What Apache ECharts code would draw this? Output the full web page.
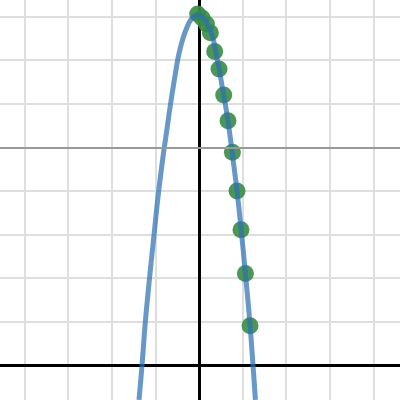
<!DOCTYPE html>
<html>
<head>
<meta charset="utf-8">
<script src="https://cdn.jsdelivr.net/npm/echarts@6/dist/echarts.min.js"></script>
<style>
html,body{margin:0;padding:0;background:#fff;overflow:hidden;width:400px;height:400px;}
#c{position:absolute;left:-18.7px;top:-26.9px;width:436px;height:436px;}
</style>
</head>
<body>
<div id="c"></div>
<script>
// Curve (grid unit = 1)
const curveX = [-1.376, -1.307, -1.229, -1.131, -1.032, -0.924, -0.810, -0.764, -0.711, -0.656, -0.596, -0.534, -0.466, -0.367, -0.252, -0.161, -0.025, 0.108, 0.206, 0.321, 0.399, 0.475, 0.537, 0.606, 0.665, 0.720, 0.757, 0.872, 0.979, 1.071, 1.163, 1.239, 1.294];
const curveY = [-0.791, 0.0, 1.021, 2.037, 2.993, 4.002, 4.904, 5.211, 5.592, 5.975, 6.358, 6.739, 7.122, 7.505, 7.810, 7.963, 8.039, 7.963, 7.810, 7.505, 7.122, 6.739, 6.358, 5.975, 5.592, 5.211, 4.904, 4.002, 2.993, 2.037, 1.021, 0.0, -0.791];
// Data points
const pointX = [-0.030, 0.071, 0.170, 0.261, 0.360, 0.459, 0.567, 0.665, 0.766, 0.872, 0.963, 1.064, 1.170];
const pointY = [8.06, 7.97, 7.83, 7.63, 7.20, 6.80, 6.20, 5.61, 4.89, 4.00, 3.11, 2.11, 0.91];
// Horizontal reference line
const refLineY = 5;

const chart = echarts.init(document.getElementById('c'), null, {renderer: 'canvas'});
const curve = curveX.map((x, i) => [x, curveY[i]]);
const pts = pointX.map((x, i) => [x, pointY[i]]);

chart.setOption({
  backgroundColor: '#ffffff',
  animation: false,
  grid: {left: 0, right: 0, top: 0, bottom: 0, containLabel: false},
  xAxis: {
    type: 'value', min: -5, max: 5, interval: 1,
    axisLine: {show: true, onZero: true, lineStyle: {color: '#000', width: 3}},
    axisTick: {show: false}, axisLabel: {show: false},
    splitLine: {show: true, lineStyle: {color: '#dedede', width: 2}}
  },
  yAxis: {
    type: 'value', min: -1, max: 9, interval: 1,
    axisLine: {show: true, onZero: true, lineStyle: {color: '#000', width: 3}},
    axisTick: {show: false}, axisLabel: {show: false},
    splitLine: {show: true, lineStyle: {color: '#dedede', width: 2}}
  },
  series: [
    {
      type: 'line', data: [], z: 1,
      markLine: {
        silent: true, symbol: 'none', label: {show: false},
        lineStyle: {color: '#999999', width: 2, type: 'solid'},
        data: [{yAxis: refLineY}]
      }
    },
    {
      type: 'scatter', data: pts, symbolSize: 17, z: 3,
      itemStyle: {color: '#388c46', opacity: 0.9}
    },
    {
      type: 'line', data: curve, smooth: 0.4, showSymbol: false, z: 4,
      lineStyle: {color: '#2d70b3', width: 5, opacity: 0.72}
    }
  ]
});
</script>
</body>
</html>
